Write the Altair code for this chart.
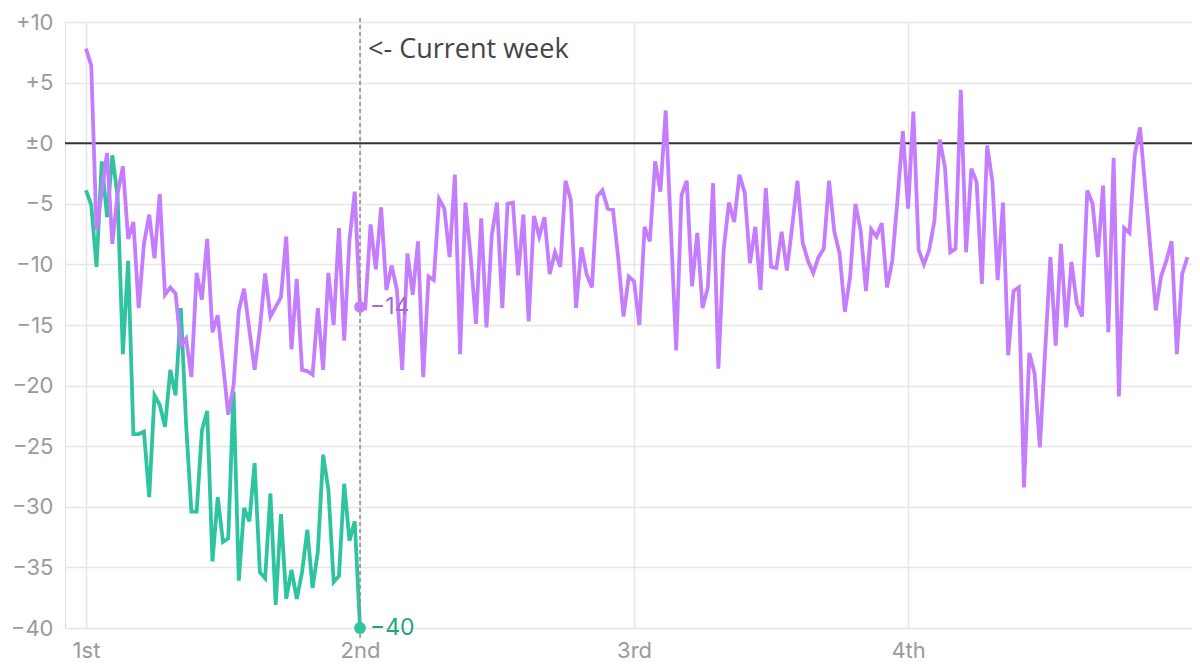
import altair as alt
import pandas as pd

# ---- data ----
week_ticks = [0, 52, 104, 156]
week_labels = ["1st", "2nd", "3rd", "4th"]
y_ticks = [-40, -35, -30, -25, -20, -15, -10, -5, 0, 5, 10]

purple_vals = [
    7.8, 6.4, -7.2, -4.0, -0.8, -8.3, -4.2, -1.9, -7.9, -6.5,
    -13.6, -8.3, -5.9, -9.5, -4.2, -12.5, -11.9, -12.4, -16.7, -16.1,
    -19.3, -10.7, -12.9, -7.9, -15.6, -14.2, -18.2, -22.4, -20.0, -13.8,
    -12.0, -15.4, -18.7, -15.3, -10.75, -14.3, -13.5, -12.7, -7.7, -17.0,
    -11.2, -18.7, -18.8, -19.1, -13.6, -18.7, -10.7, -15.0, -7.0, -16.3,
    -8.0, -4.0, -13.5, -13.6, -6.7, -10.4, -5.3, -12.1, -10.1, -12.1,
    -18.7, -9.1, -12.5, -8.1, -19.3, -11.0, -11.3, -4.6, -5.4, -9.4,
    -2.6, -17.4, -4.9, -9.4, -14.9, -6.2, -15.2, -7.6, -4.9, -13.6,
    -5.0, -4.9, -10.9, -5.9, -14.7, -6.0, -7.7, -6.1, -10.8, -9.0,
    -10.2, -3.1, -4.7, -13.6, -8.6, -10.8, -11.9, -4.4, -3.9, -5.4,
    -5.5, -9.5, -14.3, -11.0, -11.4, -15.0, -6.9, -8.1, -1.5, -4.0,
    2.7, -7.2, -17.1, -4.3, -3.1, -11.8, -7.4, -13.6, -11.9, -3.3,
    -18.6, -8.8, -4.9, -6.5, -2.6, -4.1, -9.9, -6.9, -12.1, -3.7,
    -10.2, -10.3, -7.3, -10.5, -6.9, -3.1, -8.2, -9.7, -10.7, -9.4,
    -8.7, -3.1, -7.3, -9.1, -13.9, -11.0, -5.0, -7.2, -12.2, -7.1,
    -7.7, -6.6, -11.9, -9.7, -4.6, 1.0, -5.4, 2.6, -8.8, -10.0,
    -8.8, -6.4, 0.3, -2.0, -9.0, -8.7, 4.4, -9.0, -2.1, -3.2,
    -11.6, -0.2, -3.2, -11.3, -4.9, -17.5, -12.2, -11.9, -28.4, -17.3,
    -19.0, -25.1, -17.2, -9.4, -16.7, -8.3, -15.2, -9.8, -13.2, -14.3,
    -3.9, -5.0, -9.4, -3.5, -15.6, -1.2, -20.9, -7.0, -7.4, -1.0,
    1.3, -3.7, -8.8, -13.8, -11.0, -9.7, -8.1, -17.4, -10.8, -9.4,
]

green_vals = [
    -3.9, -5.1, -10.2, -1.5, -6.1, -1.0, -4.4, -17.4, -9.7, -24.0,
    -24.0, -23.8, -29.2, -20.8, -21.6, -23.4, -18.7, -20.8, -13.6, -23.2,
    -30.4, -30.4, -23.7, -22.1, -34.5, -29.2, -32.9, -32.6, -20.5, -36.1,
    -30.1, -31.2, -26.4, -35.4, -35.9, -28.9, -38.1, -30.6, -37.6, -35.2,
    -37.6, -35.4, -31.9, -36.7, -33.7, -25.7, -28.6, -36.2, -35.7, -28.1,
    -32.8, -31.2, -40.0,
]

current_idx = 52
annotation = "<- Current week"

PURPLE = "#c47dfc"
PURPLE_TXT = "#a267d8"
GREEN = "#2ec4a0"
GREEN_TXT = "#1fa482"
FONT = "Inter"
ANN_FONT = "Open Sans"

purple_df = pd.DataFrame({"i": list(range(len(purple_vals))), "v": purple_vals})
green_df = pd.DataFrame({"i": list(range(len(green_vals))), "v": green_vals})

x_label_expr = " : ".join(
    f"datum.value == {t} ? '{l}'" for t, l in zip(week_ticks, week_labels)
) + " : ''"
y_label_expr = (
    "datum.value > 0 ? '+' + datum.value : "
    "(datum.value == 0 ? '\u00b10' : '\u2212' + abs(datum.value))"
)

x_scale = alt.Scale(domain=[-3.98, 209.87], nice=False, zero=False)
y_scale = alt.Scale(domain=[-40, 10], nice=False, zero=False)

x_axis = alt.Axis(
    values=week_ticks, labelExpr=x_label_expr, grid=True, gridColor="#e6e6e6",
    gridWidth=1.5, ticks=False, domain=False, labelColor="#9a9a9a",
    labelFontSize=22, labelFont=FONT, labelPadding=12, title=None,
)
y_axis = alt.Axis(
    values=y_ticks, labelExpr=y_label_expr, grid=True, gridColor="#e6e6e6",
    gridWidth=1.5, ticks=False, domain=False, labelColor="#9a9a9a",
    labelFontSize=22, labelFont=FONT, labelPadding=12, title=None,
)

base_x = alt.X("i:Q", scale=x_scale, axis=x_axis)
base_y = alt.Y("v:Q", scale=y_scale, axis=y_axis)

axes_layer = alt.Chart(green_df).mark_line(opacity=0).encode(x=base_x, y=base_y)

zero_df = pd.DataFrame({"v": [0]})
zero_rule = alt.Chart(zero_df).mark_rule(color="#333333", strokeWidth=2).encode(
    y=alt.Y("v:Q", scale=y_scale)
)

cur_df = pd.DataFrame({"i": [current_idx], "t": [annotation]})
cur_rule = alt.Chart(cur_df).mark_rule(
    color="#8f8f8f", strokeWidth=1.6, strokeDash=[4, 3]
).encode(x=alt.X("i:Q", scale=x_scale), y=alt.value(-4), y2=alt.value(618))
cur_text = alt.Chart(cur_df).mark_text(
    align="left", baseline="middle", dx=8, fontSize=27, font=ANN_FONT, color="#444444"
).encode(x=alt.X("i:Q", scale=x_scale), y=alt.value(28), text="t:N")

green_line = alt.Chart(green_df).mark_line(
    color=GREEN, strokeWidth=3.8, strokeJoin="miter"
).encode(x=alt.X("i:Q", scale=x_scale), y=alt.Y("v:Q", scale=y_scale))
purple_line = alt.Chart(purple_df).mark_line(
    color=PURPLE, strokeWidth=3.8, strokeJoin="miter"
).encode(x=alt.X("i:Q", scale=x_scale), y=alt.Y("v:Q", scale=y_scale))

end_df = pd.DataFrame({
    "i": [current_idx, current_idx],
    "v": [purple_vals[current_idx], green_vals[current_idx]],
    "lab": ["\u2212" + str(round(abs(purple_vals[current_idx]))),
            "\u2212" + str(round(abs(green_vals[current_idx])))],
    "c": [PURPLE, GREEN],
    "tc": [PURPLE_TXT, GREEN_TXT],
})
end_pts = alt.Chart(end_df).mark_circle(size=140, opacity=1).encode(
    x=alt.X("i:Q", scale=x_scale), y=alt.Y("v:Q", scale=y_scale),
    color=alt.Color("c:N", scale=None),
)
end_txt = alt.Chart(end_df).mark_text(
    align="left", baseline="middle", dx=10, fontSize=23, font=FONT
).encode(
    x=alt.X("i:Q", scale=x_scale), y=alt.Y("v:Q", scale=y_scale),
    text="lab:N", color=alt.Color("tc:N", scale=None),
)

chart = alt.layer(
    axes_layer, zero_rule, green_line, purple_line, cur_rule, cur_text, end_pts, end_txt
).properties(
    width=1127, height=606,
    autosize=alt.AutoSizeParams(type="none"),
    padding={"left": 57, "top": 14, "right": 0, "bottom": 40},
).configure_view(stroke=None).configure(background="white")

chart.save("out.html", embed_options={"renderer": "svg", "actions": False})
